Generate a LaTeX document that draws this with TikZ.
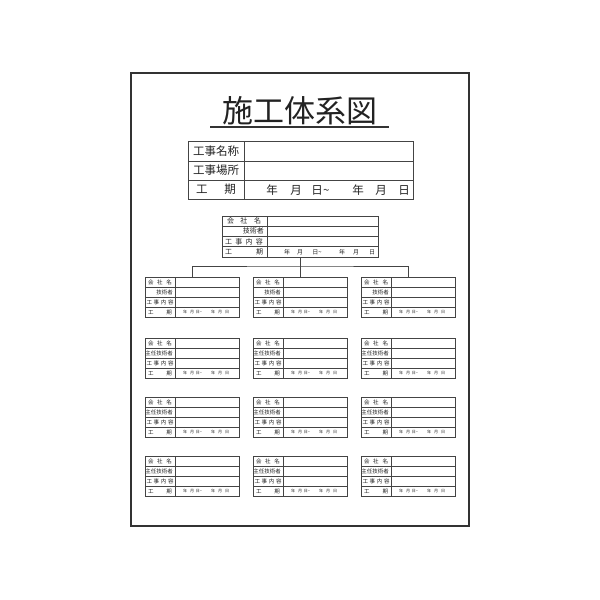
\documentclass[tikz,border=0pt]{standalone}
\usepackage{fontspec}
\setmainfont{Noto Sans CJK JP}
\usepackage{xcolor}
\usetikzlibrary{calc}
\definecolor{frame}{HTML}{333333}
\definecolor{rule}{HTML}{444444}
\definecolor{ink}{HTML}{222222}
\tikzset{
  sheet/.style={draw=frame, line width=1.3pt},
  rulebox/.style={draw=rule, line width=0.9pt},
  rl/.style={draw=rule, line width=0.7pt},
  unit/.style={rulebox, anchor=north west, minimum width=94pt, minimum height=40pt, inner sep=0pt},
  lab/.style={inner sep=0pt, text=ink, font=\fontsize{5.5}{5.5}\selectfont},
  tiny/.style={inner sep=0pt, text=ink, font=\fontsize{4}{4}\selectfont},
  link/.style={draw=rule, line width=0.8pt}
}
% spread characters over a fixed width
\newcommand{\Spread}[2]{\makebox[#1]{#2}}
\newcommand{\DrawUnit}[4]{% name, x, y, second row label
  \node[unit] (#1) at (#2,#3) {};
  \foreach \r in {10,20,30}
    \draw[rl] (#2,#3+\r) -- ++(94,0);
  \draw[rl] (#2+30,#3) -- ++(0,40);
  \node[lab] at (#2+15,#3+5) {\Spread{24pt}{会\hfill 社\hfill 名}};
  \node[lab, anchor=east] at (#2+28,#3+15) {#4};
  \node[lab] at (#2+15,#3+25) {\Spread{27pt}{工\hfill 事\hfill 内\hfill 容}};
  \node[lab] at (#2+15,#3+35) {\Spread{24pt}{工\hfill 期}};
  \foreach \dx/\t in {40/年,47/月,54/日\textasciitilde,68/年,75/月,82/日}
    \node[tiny, anchor=base] at (#2+\dx,#3+36.5) {\t};
}

\begin{document}
\begin{tikzpicture}[x=1pt,y=-1pt]
  \useasboundingbox (0,0) rectangle (600,600);
  \draw[sheet] (131,73) rectangle (469,526);
  % title
  \node[inner sep=0pt, text=ink, font=\fontsize{31}{31}\selectfont] (title) at (300,111) {施工体系図};
  \draw[frame, line width=1.2pt] (210,127) -- (389,127);
  % project table
  \node[rulebox, anchor=north west, minimum width=225pt, minimum height=58pt, inner sep=0pt] (info) at (188,141) {};
  \draw[rl] (188,161) -- ++(225,0);
  \draw[rl] (188,180) -- ++(225,0);
  \draw[rl] (244,141) -- ++(0,58);
  \begin{scope}[every node/.style={inner sep=0pt, text=ink, font=\fontsize{11.5}{11.5}\selectfont}]
    \node at (216,151) {工事名称};
    \node at (216,170.5) {工事場所};
    \node at (216,189.5) {\Spread{40pt}{工\hfill 期}};
    \foreach \x/\t in {272/年,296/月,317/日,358/年,381/月,404/日}
      \node[anchor=base] at (\x,194) {\t};
    \node[anchor=base west] at (323,194) {\textasciitilde};
  \end{scope}
  % prime contractor
  \node[rulebox, anchor=north west, minimum width=156pt, minimum height=41pt, inner sep=0pt] (top) at (222,216) {};
  \foreach \r in {10.25,20.5,30.75}
    \draw[rl] (222,216+\r) -- ++(156,0);
  \draw[rl] (267,216) -- ++(0,41);
  \begin{scope}[every node/.style={inner sep=0pt, text=ink, font=\fontsize{7}{7}\selectfont}]
    \node at (244,221) {\Spread{34pt}{会\hfill 社\hfill 名}};
    \node[anchor=east] at (264,231.3) {技術者};
    \node at (244,241.6) {\Spread{38pt}{工\hfill 事\hfill 内\hfill 容}};
    \node at (244,252) {\Spread{38pt}{工\hfill 期}};
    \foreach \x/\t in {287/年,300/月,317/日\textasciitilde,342/年,356/月,372/日}
      \node[font=\fontsize{6}{6}\selectfont, anchor=base] at (\x,254) {\t};
  \end{scope}
  % subcontractors
  \DrawUnit{u11}{145}{277}{技術者}
  \DrawUnit{u12}{253}{277}{技術者}
  \DrawUnit{u13}{361}{277}{技術者}
  \foreach \row/\y in {2/338,3/397,4/456}{
    \DrawUnit{u\row1}{145}{\y}{主任技術者}
    \DrawUnit{u\row2}{253}{\y}{主任技術者}
    \DrawUnit{u\row3}{361}{\y}{主任技術者}
  }
  % connectors
  \coordinate (bus) at (300,266);
  \draw[link] (top.south) -- (u12.north);
  \draw[link] (u11.north) |- (bus) -| (u13.north);
\end{tikzpicture}
\end{document}
